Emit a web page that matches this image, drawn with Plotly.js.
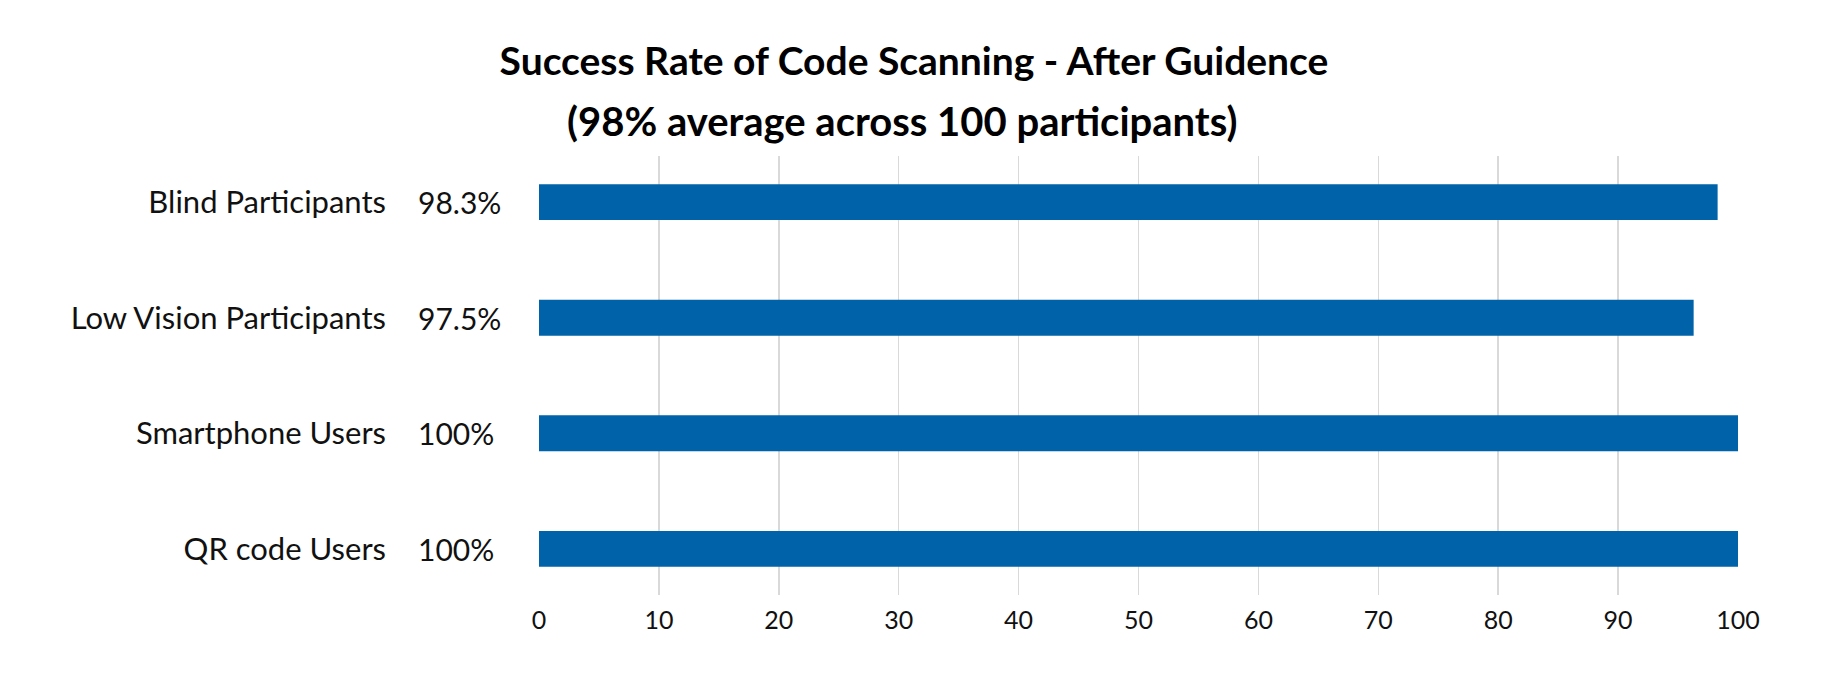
<!DOCTYPE html>
<html>
<head>
<meta charset="utf-8">
<script src="https://cdn.plot.ly/plotly-3.0.1.min.js"></script>
<style>html,body{margin:0;padding:0;background:#fff;}#chart{width:1828px;height:682px;}</style>
</head>
<body>
<div id="chart"></div>
<script>
const categories = ["Blind Participants", "Low Vision Participants", "Smartphone Users", "QR code Users"];
const barValues = [98.3, 96.3, 100, 100];
const rateLabels = ["98.3%", "97.5%", "100%", "100%"];
const xTicks = [0, 10, 20, 30, 40, 50, 60, 70, 80, 90, 100];
const titleLine1 = "Success Rate of Code Scanning - After Guidence";
const titleLine2 = "(98% average across 100 participants)";

const FONT = "Lato, 'Noto Sans', sans-serif";

const trace = {
  type: "bar",
  orientation: "h",
  x: barValues,
  y: categories,
  width: 0.31,
  marker: {color: "#0062a8"},
  hoverinfo: "x+y"
};

const annotations = categories.map((c, i) => ({
  xref: "paper", yref: "y",
  x: -0.1026, y: c,
  xanchor: "left", yanchor: "middle",
  text: rateLabels[i],
  showarrow: false,
  font: {family: FONT, size: 30, color: "#111"}
}));

annotations.push({
  xref: "paper", yref: "paper",
  x: 0.303, y: 1.0795,
  xanchor: "center", yanchor: "middle",
  text: "<b>" + titleLine2 + "</b>",
  showarrow: false,
  font: {family: FONT, size: 40, color: "#000"}
});

const layout = {
  width: 1828, height: 682,
  margin: {l: 539, r: 90, t: 156, b: 87},
  paper_bgcolor: "#fff", plot_bgcolor: "#fff",
  title: {
    text: "<b>" + titleLine1 + "</b>",
    x: 0.5, xref: "container", xanchor: "center",
    y: 0.9106, yref: "container", yanchor: "middle",
    font: {family: FONT, size: 39, color: "#000"}
  },
  xaxis: {
    range: [0, 100],
    tickvals: xTicks,
    ticktext: xTicks.map(String),
    showgrid: true, gridcolor: "#d9d9d9", gridwidth: 1.5,
    zeroline: false, showline: false,
    ticks: "", ticklabelstandoff: 8,
    tickfont: {family: FONT, size: 25, color: "#111"},
    fixedrange: true
  },
  yaxis: {
    type: "category",
    range: [3.4, -0.4],
    showgrid: false, zeroline: false, showline: false,
    ticks: "", ticklabelstandoff: 152,
    tickfont: {family: FONT, size: 31, color: "#111"},
    fixedrange: true
  },
  annotations: annotations,
  showlegend: false
};

Plotly.newPlot("chart", [trace], layout, {displayModeBar: false, staticPlot: true});
</script>
</body>
</html>
